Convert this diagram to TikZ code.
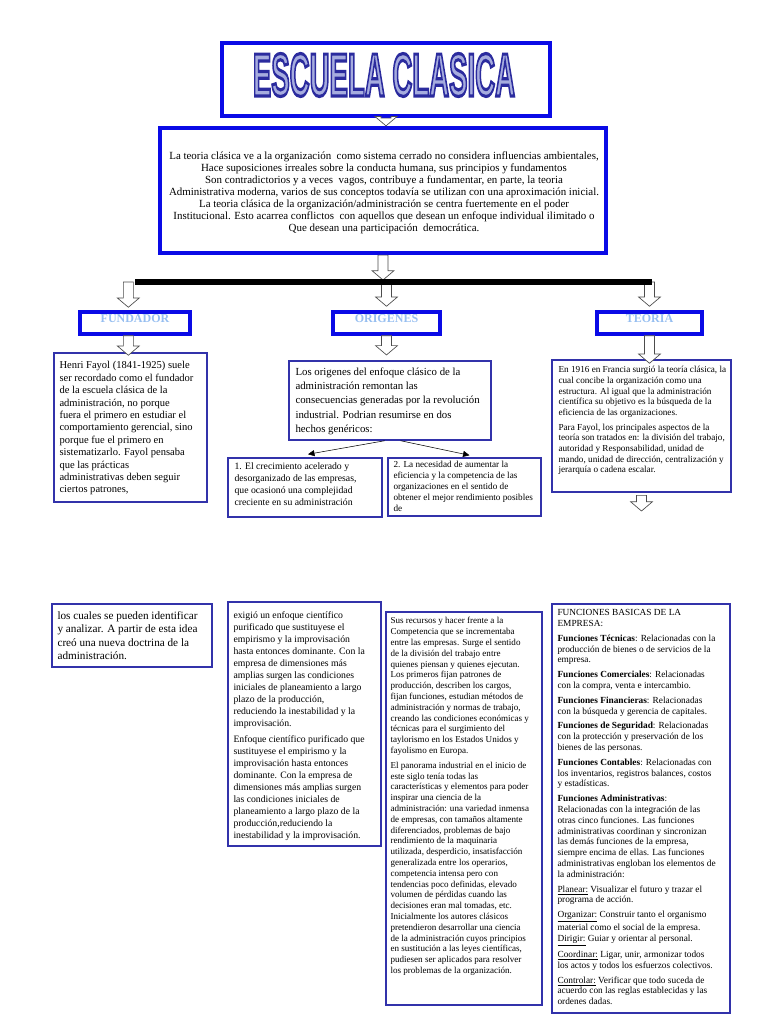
\documentclass[tikz,border=0pt]{standalone}
\usepackage{fontspec}
\setmainfont{Liberation Serif}
\newfontfamily\wordart{Liberation Sans}
\usetikzlibrary{arrows.meta,calc,fit}
\definecolor{escB}{RGB}{10,10,230}
\definecolor{escN}{RGB}{50,50,170}
\definecolor{escL}{RGB}{166,172,222}
\definecolor{escH}{RGB}{150,190,240}
\newcommand\ttl{\scalebox{1}[2.2]{\wordart\bfseries\fontsize{20.7}{20}\selectfont ESCUELA CLASICA}}
\newcommand\ttlout{\special{pdf:literal direct q 2 Tr 1.1 w 0.17 0.17 0.62 RG}\ttl\special{pdf:literal direct Q}}

\begin{document}
\begin{tikzpicture}[x=0.75pt,y=-0.75pt,>={Triangle[length=1.7mm,width=1.6mm]},
  frame/.style={draw=escB,line width=3.2pt,inner sep=0pt},
  hdr/.style={frame,line width=2.6pt,text=escH,font=\fontsize{9}{10}\selectfont\bfseries},
  tbox/.style={draw=escN,line width=1.1pt,inner sep=0pt},
  txt/.style={anchor=north west,inner sep=0pt,align=left},
  hollow/.style={draw=black!70,fill=white,line width=0.5pt,
    to path={let \p1=(\tikztostart),\p2=(\tikztotarget) in
      (\x1-3.75pt,\y1)--(\x1-3.75pt,\y2+7pt)--(\x1-8.25pt,\y2+7pt)--(\x1,\y2)
      --(\x1+8.25pt,\y2+7pt)--(\x1+3.75pt,\y2+7pt)--(\x1+3.75pt,\y1)--cycle}}]
\useasboundingbox (0,0) rectangle (768,1024);

% title
\node[frame,fit={(222,43) (550,116)}] (title) {};
\node[text=escL] (ttl) at (384,75) {\ttlout};

% intro
\node[frame,fit={(160,128) (606,253)}] (intro) {};
\node[align=center,inner sep=0pt,font=\fontsize{8.2}{9}\selectfont] (introT) at (384,193) {La teoria clásica ve a la organización \ como sistema cerrado no considera influencias ambientales,\\
Hace suposiciones irreales sobre la conducta humana, sus principios y fundamentos\\
Son contradictorios y a veces \ vagos, contribuye a fundamentar, en parte, la teoria\\
Administrativa moderna, varios de sus conceptos todavía se utilizan con una aproximación inicial.\\
La teoria clásica de la organización/administración se centra fuertemente en el poder\\
Institucional. Esto acarrea conflictos \ con aquellos que desean un enfoque individual ilimitado o\\
Que desean una participación \ democrática.};
\draw[hollow] (title.south) to (intro.north);

% bar and headers
\coordinate (barL) at (135,282); \coordinate (barR) at (652,282); \coordinate (barM) at (383,280);
\node[hdr,fit={(80,312) (190,334)}] (fund) {FUNDADOR};
\node[hdr,fit={(333,312) (440,334)}] (orig) {ORIGENES};
\node[hdr,fit={(597,312) (702,334)}] (teo) {TEORIA};
\draw[hollow] (intro.south) to (barM);
\draw[hollow] ([xshift=-5pt]fund.north |- barL) to ([shift={(-7,-3)}]fund.north);
\foreach \h in {orig,teo} \draw[hollow] (\h.north |- barL) to ([yshift=3pt]\h.north);
\draw[line width=4.5pt] (barL) -- (barR);

% founder
\node[tbox,fit={(54,353) (207,502)}] (founder) {};
\node[txt,font=\fontsize{7.9}{9.3}\selectfont] (founderT) at ([shift={(6,9)}]founder.north west) {Henri Fayol (1841-1925) suele\\
ser recordado como el fundador\\
de la escuela clásica de la\\
administración, no porque\\
fuera el primero en estudiar el\\
comportamiento gerencial, sino\\
porque fue el primero en\\
sistematizarlo. Fayol pensaba\\
que las prácticas\\
administrativas deben seguir\\
ciertos patrones,};
\draw[hollow] ([xshift=-5pt]fund.south) to ([shift={(-9,3)}]founder.north);

% origins
\node[tbox,fit={(289,361) (491,440)}] (origins) {};
\node[txt,font=\fontsize{8.1}{10.8}\selectfont] (originsT) at ([shift={(7,7)}]origins.north west) {Los origenes del enfoque clásico de la\\
administración remontan las\\
consecuencias generadas por la revolución\\
industrial. Podrian resumirse en dos\\
hechos genéricos:};
\draw[hollow] (orig.south) to ([yshift=4pt]origins.north);

\node[tbox,fit={(228,458) (382,517)}] (cause1) {};
\node[txt,font=\fontsize{7.3}{9}\selectfont] (cause1T) at ([shift={(7,5)}]cause1.north west) {1. El crecimiento acelerado y\\
desorganizado de las empresas,\\
que ocasionó una complejidad\\
creciente en su administración};
\node[tbox,fit={(388,458) (541,516)}] (cause2) {};
\node[txt,font=\fontsize{6.9}{8.2}\selectfont] (cause2T) at ([shift={(6,4)}]cause2.north west) {2. La necesidad de aumentar la\\
eficiencia y la competencia de las\\
organizaciones en el sentido de\\
obtener el mejor rendimiento posibles\\
de};
\draw[->,thin] ([xshift=-4pt]origins.south) -- ([shift={(3,-3)}]cause1.north);
\draw[->,thin] ([xshift=8pt]origins.south) -- ([shift={(5,-2)}]cause2.north);

% theory
\node[tbox,fit={(552,360) (731,492)}] (theory) {};
\node[txt,font=\fontsize{6.9}{8}\selectfont] (theoryT) at ([shift={(7,7)}]theory.north west) {En 1916 en Francia surgió la teoría clásica, la\\
cual concibe la organización como una\\
estructura. Al igual que la administración\\
científica su objetivo es la búsqueda de la\\
eficiencia de las organizaciones.\\[3pt]
Para Fayol, los principales aspectos de la\\
teoría son tratados en: la división del trabajo,\\
autoridad y Responsabilidad, unidad de\\
mando, unidad de dirección, centralización y\\
jerarquía o cadena escalar.};
\draw[hollow] (teo.south) to ([yshift=-3pt]theory.north);
\coordinate (teoEnd) at (641,511);
\draw[hollow] ([yshift=-2pt]theory.south) to (teoEnd);

% continuations
\node[tbox,fit={(52,604) (212,667)}] (contA) {};
\node[txt,font=\fontsize{8.4}{10}\selectfont] (contAT) at ([shift={(6,8)}]contA.north west) {los cuales se pueden identificar\\
y analizar. A partir de esta idea\\
creó una nueva doctrina de la\\
administración.};

\node[tbox,fit={(228,602) (381,846)}] (contB) {};
\node[txt,font=\fontsize{7.3}{9}\selectfont] (contBT) at ([shift={(6,10)}]contB.north west) {exigió un enfoque científico\\
purificado que sustituyese el\\
empirismo y la improvisación\\
hasta entonces dominante. Con la\\
empresa de dimensiones más\\
amplias surgen las condiciones\\
iniciales de planeamiento a largo\\
plazo de la producción,\\
reduciendo la inestabilidad y la\\
improvisación.\\[3pt]
Enfoque científico purificado que\\
sustituyese el empirismo y la\\
improvisación hasta entonces\\
dominante. Con la empresa de\\
dimensiones más amplias surgen\\
las condiciones iniciales de\\
planeamiento a largo plazo de la\\
producción,reduciendo la\\
inestabilidad y la improvisación.};

\node[tbox,fit={(386,612) (542,1005)}] (contC) {};
\node[txt,font=\fontsize{6.8}{8.1}\selectfont] (contCT) at ([shift={(5,6)}]contC.north west) {Sus recursos y hacer frente a la\\
Competencia que se incrementaba\\
entre las empresas. Surge el sentido\\
de la división del trabajo entre\\
quienes piensan y quienes ejecutan.\\
Los primeros fijan patrones de\\
producción, describen los cargos,\\
fijan funciones, estudian métodos de\\
administración y normas de trabajo,\\
creando las condiciones económicas y\\
técnicas para el surgimiento del\\
taylorismo en los Estados Unidos y\\
fayolismo en Europa.\\[3pt]
El panorama industrial en el inicio de\\
este siglo tenía todas las\\
características y elementos para poder\\
inspirar una ciencia de la\\
administración: una variedad inmensa\\
de empresas, con tamaños altamente\\
diferenciados, problemas de bajo\\
rendimiento de la maquinaria\\
utilizada, desperdicio, insatisfacción\\
generalizada entre los operarios,\\
competencia intensa pero con\\
tendencias poco definidas, elevado\\
volumen de pérdidas cuando las\\
decisiones eran mal tomadas, etc.\\
Inicialmente los autores clásicos\\
pretendieron desarrollar una ciencia\\
de la administración cuyos principios\\
en sustitución a las leyes científicas,\\
pudiesen ser aplicados para resolver\\
los problemas de la organización.};

\node[tbox,fit={(552,604) (730,1013)}] (functions) {};
\node[txt,font=\fontsize{7}{8.1}\selectfont] (functionsT) at ([shift={(6,6)}]functions.north west) {FUNCIONES BASICAS DE LA\\
EMPRESA:\\[3pt]
\textbf{Funciones Técnicas}: Relacionadas con la\\
producción de bienes o de servicios de la\\
empresa.\\[3pt]
\textbf{Funciones Comerciales}: Relacionadas\\
con la compra, venta e intercambio.\\[3pt]
\textbf{Funciones Financieras}: Relacionadas\\
con la búsqueda y gerencia de capitales.\\[3pt]
\textbf{Funciones de Seguridad}: Relacionadas\\
con la protección y preservación de los\\
bienes de las personas.\\[3pt]
\textbf{Funciones Contables}: Relacionadas con\\
los inventarios, registros balances, costos\\
y estadísticas.\\[3pt]
\textbf{Funciones Administrativas}:\\
Relacionadas con la integración de las\\
otras cinco funciones. Las funciones\\
administrativas coordinan y sincronizan\\
las demás funciones de la empresa,\\
siempre encima de ellas. Las funciones\\
administrativas engloban los elementos de\\
la administración:\\[3pt]
\underline{Planear:} Visualizar el futuro y trazar el\\
programa de acción.\\[3pt]
\underline{Organizar:} Construir tanto el organismo\\
material como el social de la empresa.\\
\underline{Dirigir:} Guiar y orientar al personal.\\[3pt]
\underline{Coordinar:} Ligar, unir, armonizar todos\\
los actos y todos los esfuerzos colectivos.\\[3pt]
\underline{Controlar:} Verificar que todo suceda de\\
acuerdo con las reglas establecidas y las\\
ordenes dadas.};
\end{tikzpicture}
\end{document}
